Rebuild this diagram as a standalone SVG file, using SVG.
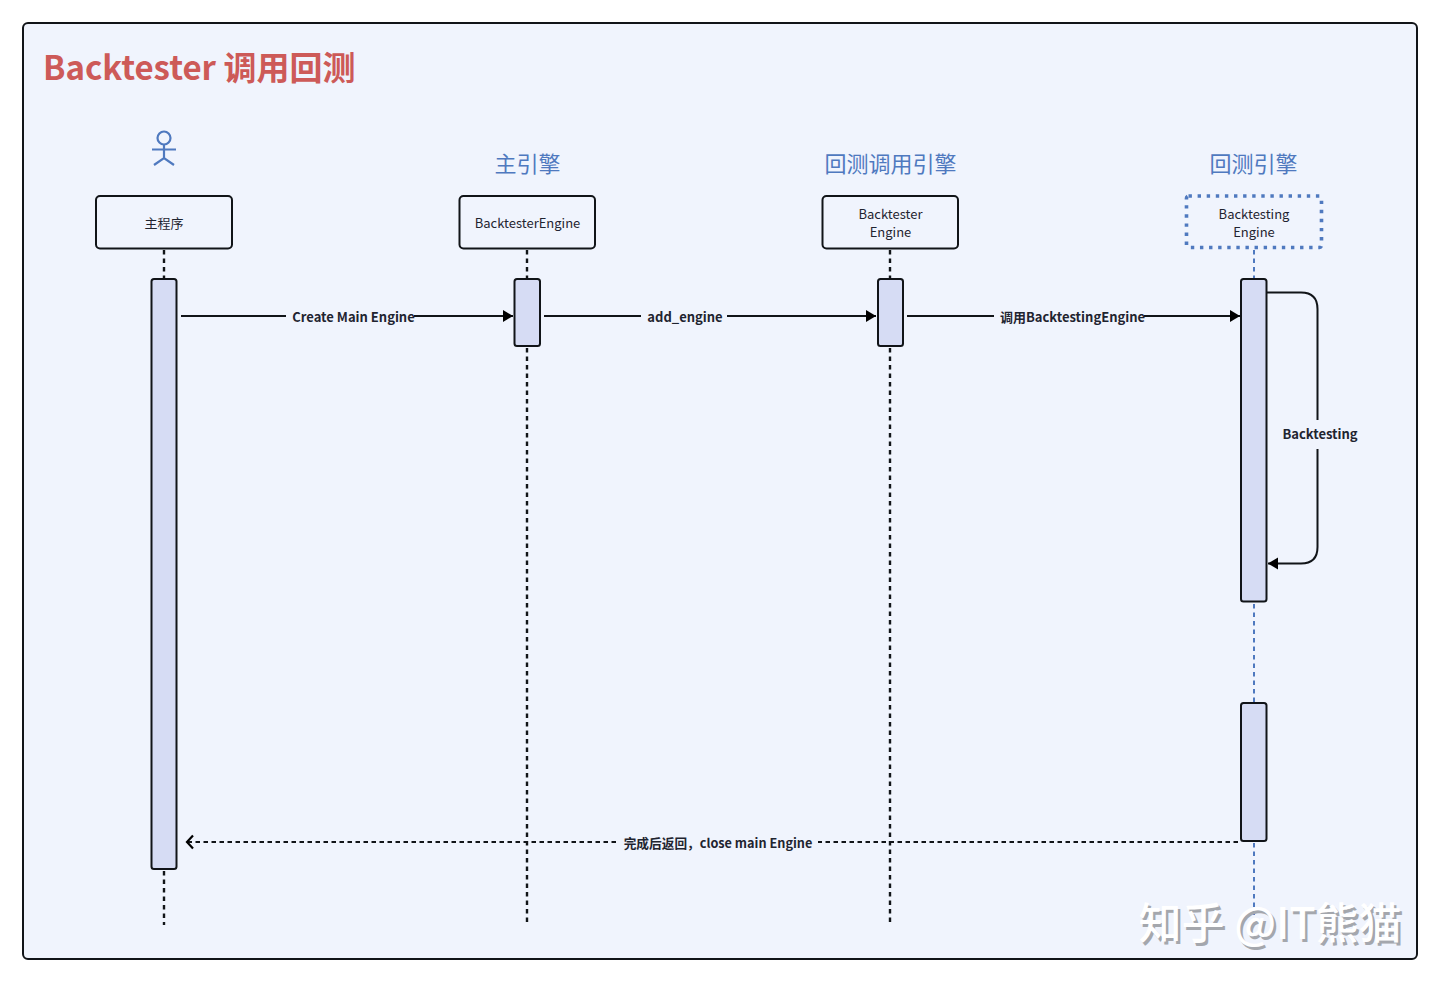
<svg xmlns="http://www.w3.org/2000/svg" width="1440" height="982" viewBox="0 0 1440 982">
<defs>
<style>
text{font-family:"Noto Sans CJK SC","Noto Sans",sans-serif;fill:#1f2430;text-anchor:middle}
.box{fill:#f0f4fd;stroke:#111418;stroke-width:2}
.act{fill:#d6dcf4;stroke:#111418;stroke-width:2}
.life{fill:none;stroke:#111418;stroke-width:2.400;stroke-dasharray:4.500 4}
.lifeb{fill:none;stroke:#4f79bf;stroke-width:2;stroke-dasharray:4.500 4}
.msg{fill:none;stroke:#111418;stroke-width:2}
.ret{fill:none;stroke:#111418;stroke-width:2;stroke-dasharray:4.500 3.500}
.nt{font-size:13px}
.ml{font-size:13px;font-weight:700}
.hd{font-size:22px;fill:#4f79bf}
.wm{font-size:43px;font-weight:500;text-anchor:start}
</style>
<marker id="solid" markerUnits="userSpaceOnUse" markerWidth="12" markerHeight="14" refX="10" refY="7" orient="auto"><path d="M0 1L10 7L0 13Z" fill="#000"/></marker>
<marker id="open" markerUnits="userSpaceOnUse" markerWidth="12" markerHeight="16" refX="8" refY="8" orient="auto"><path d="M2 1.500L8 8L2 14.500" fill="none" stroke="#000" stroke-width="2.200"/></marker>
</defs>
<rect width="1440" height="982" fill="#fff"/>
<rect id="frame" x="23" y="23" width="1394" height="936" rx="5" fill="#f0f4fd" stroke="#111418" stroke-width="2"/>
<text id="title" x="43" y="80" style="font-size:33px;font-weight:700;fill:#cd5a58;text-anchor:start">Backtester 调用回测</text>
<g id="lifelines">
<path class="life" d="M164 250V278M164 871V925"/>
<path class="life" d="M527 250V278M527 348V925"/>
<path class="life" d="M890 250V278M890 348V925"/>
<path class="lifeb" d="M1254 250V278M1254 604V702M1254 843V915"/>
</g>
<g id="actor" fill="none" stroke="#4f79bf" stroke-width="2.200">
<circle cx="164" cy="138" r="6.500"/>
<path d="M164 145V158M152 149.500H176M154 165L164 158L174 165"/>
</g>
<g id="node-main">
<rect class="box" x="96" y="196" width="136" height="52.500" rx="4"/>
<text class="nt" x="164" y="228">主程序</text>
<rect class="act" x="151.500" y="279" width="25" height="590" rx="2.500"/>
</g>
<g id="node-engine">
<text class="hd" x="527.500" y="172">主引擎</text>
<rect class="box" x="459.500" y="196" width="135.500" height="52.500" rx="4"/>
<text class="nt" x="527.500" y="228">BacktesterEngine</text>
<rect class="act" x="514.500" y="279" width="25.500" height="67" rx="2.500"/>
</g>
<g id="node-caller">
<text class="hd" x="890.500" y="172">回测调用引擎</text>
<rect class="box" x="822.500" y="196" width="135.500" height="52.500" rx="4"/>
<text class="nt" x="890.500" y="218.500">Backtester</text>
<text class="nt" x="890.500" y="237">Engine</text>
<rect class="act" x="878" y="279" width="25" height="67" rx="2.500"/>
</g>
<g id="node-backtest">
<text class="hd" x="1253.500" y="172">回测引擎</text>
<rect x="1186.500" y="196" width="135" height="51.500" rx="2" fill="#f0f4fd" stroke="#4f79bf" stroke-width="3.600" stroke-dasharray="3.400 5.700"/>
<text class="nt" x="1254" y="218.500">Backtesting</text>
<text class="nt" x="1254" y="237">Engine</text>
<rect class="act" x="1241" y="279" width="25.500" height="322.500" rx="2.500"/>
<rect class="act" x="1241" y="703" width="25.500" height="138" rx="2.500"/>
</g>
<g id="connectors">
<path class="msg" d="M181 316H286M414 316H513" marker-end="url(#solid)"/>
<path class="msg" d="M544 316H641M727 316H876" marker-end="url(#solid)"/>
<path class="msg" d="M907 316H994M1144 316H1240" marker-end="url(#solid)"/>
<path class="msg" d="M1267 292.500H1301Q1317.500 292.500 1317.500 309V420M1317.500 449V547Q1317.500 563.500 1301 563.500H1268" marker-end="url(#solid)"/>
<path class="ret" d="M1238 842H818M616 842H187" marker-end="url(#open)"/>
<text class="ml" x="353.500" y="321.500">Create Main Engine</text>
<text class="ml" x="685" y="321.500">add_engine</text>
<text class="ml" x="1072.500" y="321.500">调用BacktestingEngine</text>
<text class="ml" x="1320" y="439">Backtesting</text>
<text class="ml" x="718" y="847.500" style="font-size:12.700px">完成后返回，close main Engine</text>
</g>
<g id="watermark">
<text class="wm" x="1141" y="941.500" style="fill:#a4a7ad">知乎 @IT熊猫</text>
<text class="wm" x="1138.500" y="939" style="fill:#fff">知乎 @IT熊猫</text>
</g>
</svg>
